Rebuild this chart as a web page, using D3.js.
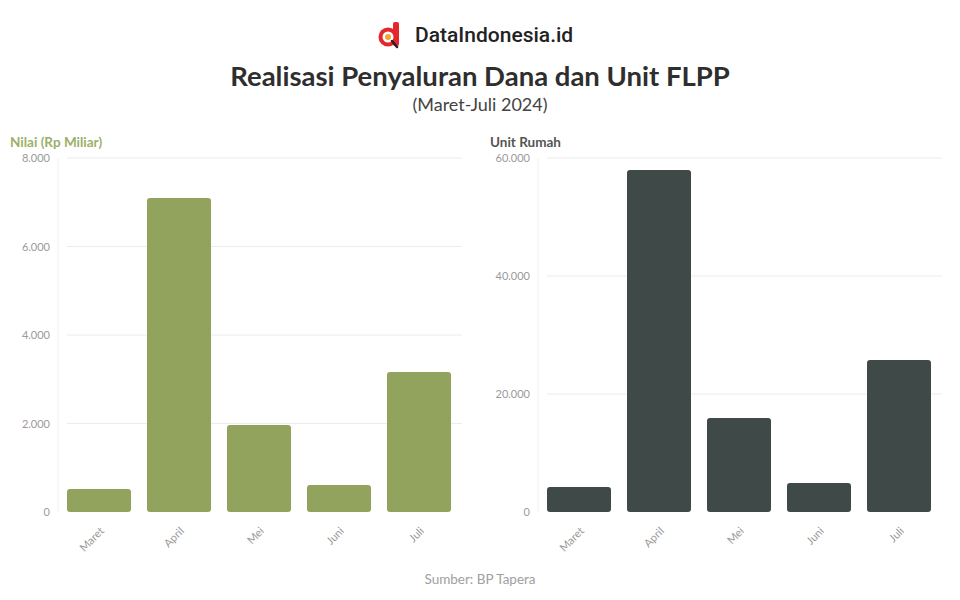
<!DOCTYPE html>
<html><head><meta charset="utf-8">
<script src="https://cdn.jsdelivr.net/npm/d3@7"></script>
<style>
body{margin:0;background:#fff;}
svg{display:block;}
</style></head>
<body>
<svg id="chart" width="960" height="600"></svg>
<script>
const months = ["Maret", "April", "Mei", "Juni", "Juli"];
const danaValues = [520, 7096, 1966, 610, 3164];
const unitValues = [4237, 57966, 15932, 4915, 25763];
const danaTicks = [0, 2000, 4000, 6000, 8000];
const unitTicks = [0, 20000, 40000, 60000];
const titleText = "Realisasi Penyaluran Dana dan Unit FLPP";
const subtitleText = "(Maret-Juli 2024)";
const sourceText = "Sumber: BP Tapera";

const svg = d3.select("#chart");
const W = 960;
const font = "'Source Sans Pro', Lato, 'Noto Sans', sans-serif";

// header logo
const logo = svg.append("g").attr("transform", "translate(378,22)");
logo.append("rect").attr("x", 15).attr("y", 0).attr("width", 6).attr("height", 24).attr("rx", 2).attr("fill", "#e5262b");
logo.append("circle").attr("cx", 10).attr("cy", 15).attr("r", 9.5).attr("fill", "#e5262b");
logo.append("circle").attr("cx", 10).attr("cy", 15).attr("r", 5.5).attr("fill", "#fff");
logo.append("circle").attr("cx", 10).attr("cy", 15).attr("r", 3).attr("fill", "#f2a33a");
logo.append("line").attr("x1", 14).attr("y1", 19).attr("x2", 19).attr("y2", 25).attr("stroke", "#222").attr("stroke-width", 2.5).attr("stroke-linecap", "round");

svg.append("text").attr("x", 415).attr("y", 42).attr("font-family", "Roboto, 'Noto Sans', sans-serif")
  .attr("font-weight", 500).attr("font-size", 21).attr("fill", "#222").text("DataIndonesia.id");

svg.append("text").attr("x", W/2).attr("y", 86).attr("text-anchor", "middle")
  .attr("font-family", font).attr("font-weight", 700).attr("font-size", 27.5).attr("fill", "#2e2e2e").text(titleText);
svg.append("text").attr("x", W/2).attr("y", 111).attr("text-anchor", "middle")
  .attr("font-family", font).attr("font-size", 18).attr("fill", "#444").text(subtitleText);

const idFmt = d3.formatLocale({decimal: ",", thousands: ".", grouping: [3], currency: ["Rp", ""]});

function drawPanel(ox, values, ticks, maxV, color, axisTitle, titleColor, fmt) {
  const g = svg.append("g").attr("transform", `translate(${ox},0)`);
  const x = d3.scaleBand().domain(months).range([59, 459]).paddingInner(0.2).paddingOuter(0.1);
  const y = d3.scaleLinear().domain([0, maxV]).range([512, 158]);

  g.append("text").attr("x", 10).attr("y", 147).attr("font-family", font).attr("font-weight", 700)
    .attr("font-size", 13.5).attr("fill", titleColor).text(axisTitle);

  // gridlines
  g.selectAll("line.grid").data(ticks.filter(t => t > 0)).join("line")
    .attr("x1", 67).attr("x2", 462).attr("y1", d => y(d)).attr("y2", d => y(d))
    .attr("stroke", "#ececec").attr("stroke-width", 1);
  g.append("line").attr("x1", 58).attr("x2", 58).attr("y1", 158).attr("y2", 512).attr("stroke", "#f0f0f0");

  const yAxis = d3.axisLeft(y).tickValues(ticks).tickFormat(fmt).tickSize(0).tickPadding(0);
  const ya = g.append("g").attr("transform", "translate(50,0)").call(yAxis);
  ya.select(".domain").remove();
  ya.selectAll("text").attr("font-family", font).attr("font-size", 11).attr("fill", "#9a9a9a");

  g.selectAll("rect.bar").data(values).join("rect")
    .attr("x", (d, i) => x(months[i])).attr("width", x.bandwidth())
    .attr("y", d => y(d)).attr("height", d => y(0) - y(d))
    .attr("rx", 3).attr("fill", color);

  const xAxis = d3.axisBottom(x).tickSize(0).tickPadding(0);
  const xa = g.append("g").attr("transform", "translate(0,520)").call(xAxis);
  xa.select(".domain").remove();
  xa.selectAll("text").attr("font-family", font).attr("font-size", 11).attr("fill", "#9a9a9a")
    .attr("text-anchor", "end").attr("dy", "0.35em").attr("transform", "translate(3,9) rotate(-45)");
}

drawPanel(0, danaValues, danaTicks, 8000, "#92a35e", "Nilai (Rp Miliar)", "#9bb069", idFmt.format(",d"));
drawPanel(480, unitValues, unitTicks, 60000, "#3f4947", "Unit Rumah", "#555", idFmt.format(",d"));

svg.append("text").attr("x", W/2).attr("y", 584).attr("text-anchor", "middle")
  .attr("font-family", font).attr("font-size", 13.5).attr("fill", "#a0a0a0").text(sourceText);
</script>
</body></html>
